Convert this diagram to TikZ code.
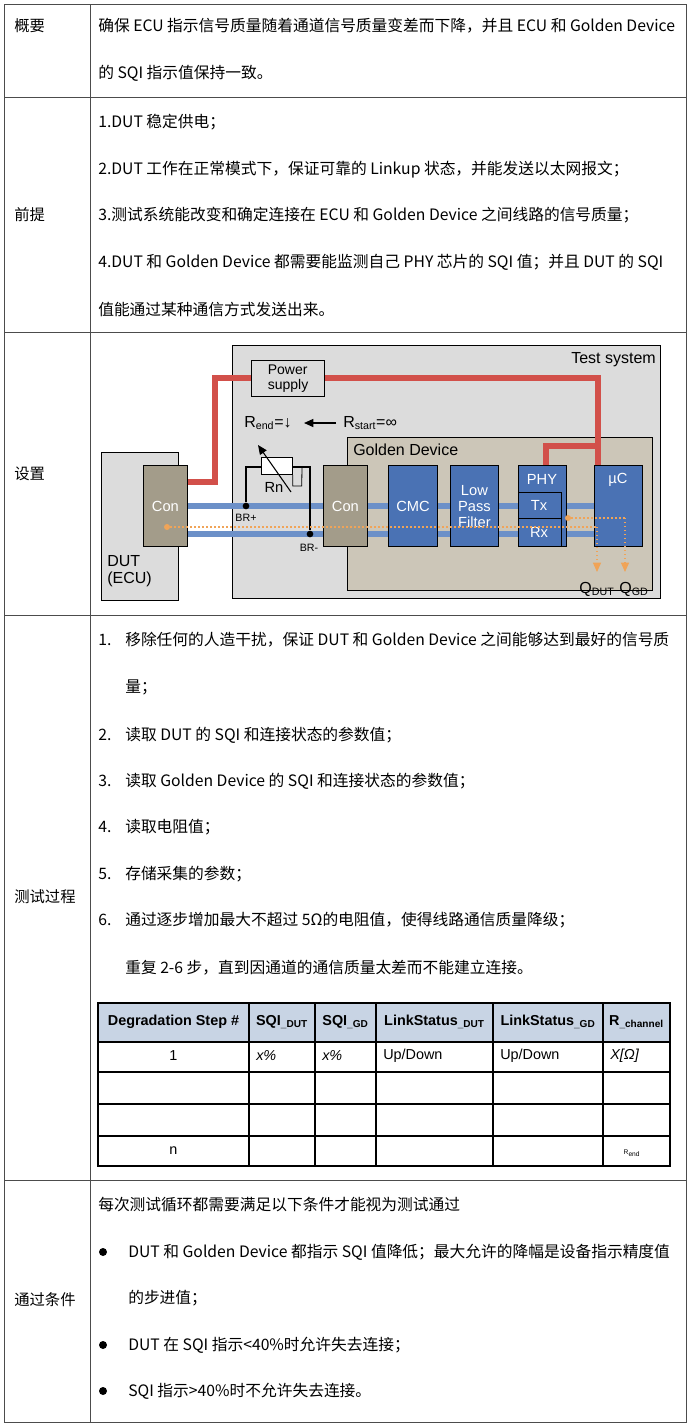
\documentclass[tikz,border=0pt]{standalone}
\usepackage{fontspec}
\setmainfont{Liberation Sans}
\newfontfamily\cjk{Noto Sans CJK SC}
\usetikzlibrary{arrows.meta}
\definecolor{tsbg}{HTML}{DCDCDC}
\definecolor{gdbg}{HTML}{CCC6B8}
\definecolor{conc}{HTML}{A39C8A}
\definecolor{blk}{HTML}{4A72B4}
\definecolor{wire}{HTML}{6C90C8}
\definecolor{pwr}{HTML}{D2504A}
\definecolor{org}{HTML}{F0A458}
\definecolor{hdr}{HTML}{C8D4E4}
\tikzset{
 t/.style={anchor=west,inner sep=0pt,font=\cjk\fontsize{11.8}{13}\selectfont},
 lab/.style={anchor=west,inner sep=0pt,font=\cjk\fontsize{11.5}{13}\selectfont},
 grid/.style={draw=black!70,line width=0.6pt},
 blkbox/.style={draw=black,fill=blk,text=white,line width=0.6pt,font=\fontsize{11}{12}\selectfont,align=center,inner sep=0pt},
 conbox/.style={draw=black,fill=conc,text=white,line width=0.6pt,font=\fontsize{11}{12}\selectfont,inner sep=0pt},
 wtxt/.style={text=white,font=\fontsize{11}{12}\selectfont,inner sep=0},
 dg/.style={font=\fontsize{12}{13}\selectfont,inner sep=0pt},
 tc/.style={inner sep=0pt,font=\fontsize{10.8}{12}\selectfont},
 th/.style={inner sep=0pt,font=\bfseries\fontsize{10.8}{12}\selectfont},
 dot/.style={circle,fill=black,inner sep=0pt,minimum size=5pt},
 odot/.style={circle,fill=org,inner sep=0pt,minimum size=4.5pt},
 tri/.style={-{Triangle[length=7pt,width=6pt]}},
}
\begin{document}
\begin{tikzpicture}[x=0.75pt,y=-0.75pt]
\useasboundingbox (0,0) rectangle (690,1428);
\fill[white] (0,0) rectangle (690,1428);
% outer table
\draw[grid] (4,4) rectangle (686,1422);
\draw[grid] (90,4) -- (90,1422);
\foreach \y in {97,332,615,1180} \draw[grid] (4,\y) -- (686,\y);
% left labels
\node[lab] (l1) at (14,26) {概要};
\node[lab] (l2) at (14,215) {前提};
\node[lab] (l3) at (14,474) {设置};
\node[lab] (l4) at (14,897) {测试过程};
\node[lab] (l5) at (14,1300) {通过条件};
% row 1
\node[t] (a1) at (98,26) {确保 ECU 指示信号质量随着通道信号质量变差而下降，并且 ECU 和 Golden Device};
\node[t] (a2) at (98,73) {的 SQI 指示值保持一致。};
% row 2
\node[t] (b1) at (98,122) {1.DUT 稳定供电；};
\node[t] (b2) at (98,170) {2.DUT 工作在正常模式下，保证可靠的 Linkup 状态，并能发送以太网报文；};
\node[t] (b3) at (98,215) {3.测试系统能改变和确定连接在 ECU 和 Golden Device 之间线路的信号质量；};
\node[t] (b4) at (98,262) {4.DUT 和 Golden Device 都需要能监测自己 PHY 芯片的 SQI 值；并且 DUT 的 SQI};
\node[t] (b5) at (98,309) {值能通过某种通信方式发送出来。};
% row 4
\node[t] (c1n) at (98,640) {1.};
\node[t] (c1) at (125,640) {移除任何的人造干扰，保证 DUT 和 Golden Device 之间能够达到最好的信号质};
\node[t] (c1b) at (125,687) {量；};
\node[t] (c2n) at (98,735) {2.};
\node[t] (c2) at (125,735) {读取 DUT 的 SQI 和连接状态的参数值；};
\node[t] (c3n) at (98,781) {3.};
\node[t] (c3) at (125,781) {读取 Golden Device 的 SQI 和连接状态的参数值；};
\node[t] (c4n) at (98,827) {4.};
\node[t] (c4) at (125,827) {读取电阻值；};
\node[t] (c5n) at (98,874) {5.};
\node[t] (c5) at (125,874) {存储采集的参数；};
\node[t] (c6n) at (98,920) {6.};
\node[t] (c6) at (125,920) {通过逐步增加最大不超过 5Ω的电阻值，使得线路通信质量降级；};
\node[t] (c7) at (125,968) {重复 2-6 步，直到因通道的通信质量太差而不能建立连接。};
% table
\fill[hdr] (98,1003) rectangle (670,1042);
\draw[line width=1pt] (98,1003) rectangle (670,1166);
\foreach \x in {249,315,376,493,603} \draw[line width=0.8pt] (\x,1003) -- (\x,1166);
\foreach \y in {1042,1072,1104,1136} \draw[line width=0.8pt] (98,\y) -- (670,\y);
\node[th] (h1) at (173.5,1022) {Degradation Step \#};
\node[th] (h2) at (282,1022) {SQI\textsubscript{\_DUT}};
\node[th] (h3) at (345.5,1022) {SQI\textsubscript{\_GD}};
\node[th] (h4) at (434.5,1022) {LinkStatus\textsubscript{\_DUT}};
\node[th] (h5) at (548,1022) {LinkStatus\textsubscript{\_GD}};
\node[th] (h6) at (636.5,1022) {R\textsubscript{\_channel}};
\node[tc] (r1) at (173.5,1056) {1};
\node[tc,anchor=west] (r2) at (256,1056) {\itshape x\%};
\node[tc,anchor=west] (r3) at (322,1056) {\itshape x\%};
\node[tc,anchor=west] (r4) at (383,1056) {Up/Down};
\node[tc,anchor=west] (r5) at (500,1056) {Up/Down};
\node[tc,anchor=west] (r6) at (610,1056) {\itshape X[Ω]};
\node[tc] (n1) at (173.5,1151) {n};
\node[tc,font=\fontsize{5}{6}\selectfont] (n6) at (632,1153) {R\textsubscript{end}};
% row 5
\node[t] (d0) at (98,1205) {每次测试循环都需要满足以下条件才能视为测试通过};
\foreach \y [count=\i] in {1252,1345,1391} \node[circle,fill=black,inner sep=0pt,minimum size=6pt] (bul\i) at (103,\y) {};
\node[t] (d1) at (128,1252) {DUT 和 Golden Device 都指示 SQI 值降低；最大允许的降幅是设备指示精度值};
\node[t] (d1b) at (128,1298) {的步进值；};
\node[t] (d2) at (128,1345) {DUT 在 SQI 指示<40\%时允许失去连接；};
\node[t] (d3) at (128,1391) {SQI 指示>40\%时不允许失去连接。};
% ===== diagram =====
\draw[line width=0.6pt,fill=tsbg] (101,452) rectangle (178,600);
\node[dg,anchor=north west,align=left] (dut) at (107,555) {DUT\\(ECU)};
\draw[line width=0.6pt,fill=tsbg] (232,345) rectangle (660,598);
\node[dg,anchor=north east] (ts) at (656,352) {Test system};
\draw[line width=0.6pt,fill=gdbg] (347,437) rectangle (652,590);
\node[dg,anchor=north west] (gd) at (353,444) {Golden Device};
% power lines
\draw[pwr,line width=4pt] (187,482) -- (215,482) -- (215,378) -- (598,378) -- (598,466);
\draw[pwr,line width=4pt] (546,466) -- (546,446) -- (598,446);
\node[draw=black,fill=tsbg,line width=0.6pt,font=\fontsize{10.5}{11}\selectfont,align=left,inner sep=1.5pt,minimum width=55pt,minimum height=27pt,anchor=north west] (ps) at (251,360) {Power\\supply};
% blue wires
\draw[wire,line width=4pt] (187,506) -- (594,506);
\draw[wire,line width=4pt] (187,534) -- (594,534);
% blocks
\node[conbox,minimum width=33pt,minimum height=61pt,anchor=north west] (con1) at (143,465) {Con};
\node[conbox,minimum width=33pt,minimum height=61pt,anchor=north west] (con2) at (323,465) {Con};
\node[blkbox,minimum width=37pt,minimum height=61pt,anchor=north west] (cmc) at (388,465) {CMC};
\node[blkbox,minimum width=36pt,minimum height=61pt,anchor=north west] (lpf) at (450,465) {Low\\Pass\\Filter};
\node[blkbox,minimum width=36pt,minimum height=61pt,anchor=north west] (phy) at (518,465) {};
\node[wtxt] (phyt) at (542,479) {PHY};
\draw[line width=0.6pt] (518,492) -- (561,492) -- (561,546);
\draw[line width=0.6pt] (518,518) -- (561,518);
\node[wtxt] (tx) at (539,505) {Tx};
\node[wtxt] (rx) at (539,532) {Rx};
\node[blkbox,minimum width=36pt,minimum height=61pt,anchor=north west] (uc) at (594,465) {};
\node[wtxt] (uct) at (618,480) {µC};
% resistor
\node[dot] (brp) at (246,506) {};
\node[dot] (brm) at (310,534) {};
\node[font=\fontsize{8}{9}\selectfont,inner sep=0] (brpl) at (246,518) {BR+};
\node[font=\fontsize{8}{9}\selectfont,inner sep=0] (brml) at (309,548) {BR-};
\draw[line width=0.8pt] (brp) -- (246,467) -- (310,467) -- (brm);
\node[draw=black,line width=0.6pt,fill=white,minimum width=23pt,minimum height=13pt,inner sep=0] (rn) at (277,466) {};
\draw[line width=0.6pt] (rn.south east) -- ++(0,11) -- ++(9,0) -- (302,467);
\node[font=\fontsize{11}{12}\selectfont,inner sep=0] (rnl) at (274,487) {Rn};
\coordinate (ra1) at (291,492);
\coordinate (ra2) at (258,445);
\draw[line width=0.8pt,tri] (ra1) -- (ra2);
\node[font=\fontsize{12}{13}\selectfont,inner sep=0,anchor=west] (rend) at (244,423) {R\textsubscript{end}=↓};
\node[font=\fontsize{12}{13}\selectfont,inner sep=0,anchor=west] (rstart) at (343,423) {R\textsubscript{start}=∞};
\draw[line width=1pt,tri] (rstart.west) ++(-7,0) -- ++(-32,0);
% orange
\node[odot] (o1) at (167,527) {};
\node[odot] (o2) at (568,518) {};
\coordinate (q1c) at (597,527);
\coordinate (q2c) at (625,518);
\coordinate (q1e) at (597,572);
\coordinate (q2e) at (625,572);
\draw[org,line width=1pt,dotted] (o1) -- (q1c);
\draw[org,line width=1pt,dotted] (o2) -- (q2c);
\draw[org,line width=1pt,dotted,tri] (q1c) -- (q1e);
\draw[org,line width=1pt,dotted,tri] (q2c) -- (q2e);
\node[font=\fontsize{12}{13}\selectfont,inner sep=0] (qd) at (597,589) {Q\textsubscript{DUT}};
\node[font=\fontsize{12}{13}\selectfont,inner sep=0] (qg) at (634,589) {Q\textsubscript{GD}};
\end{tikzpicture}
\end{document}
